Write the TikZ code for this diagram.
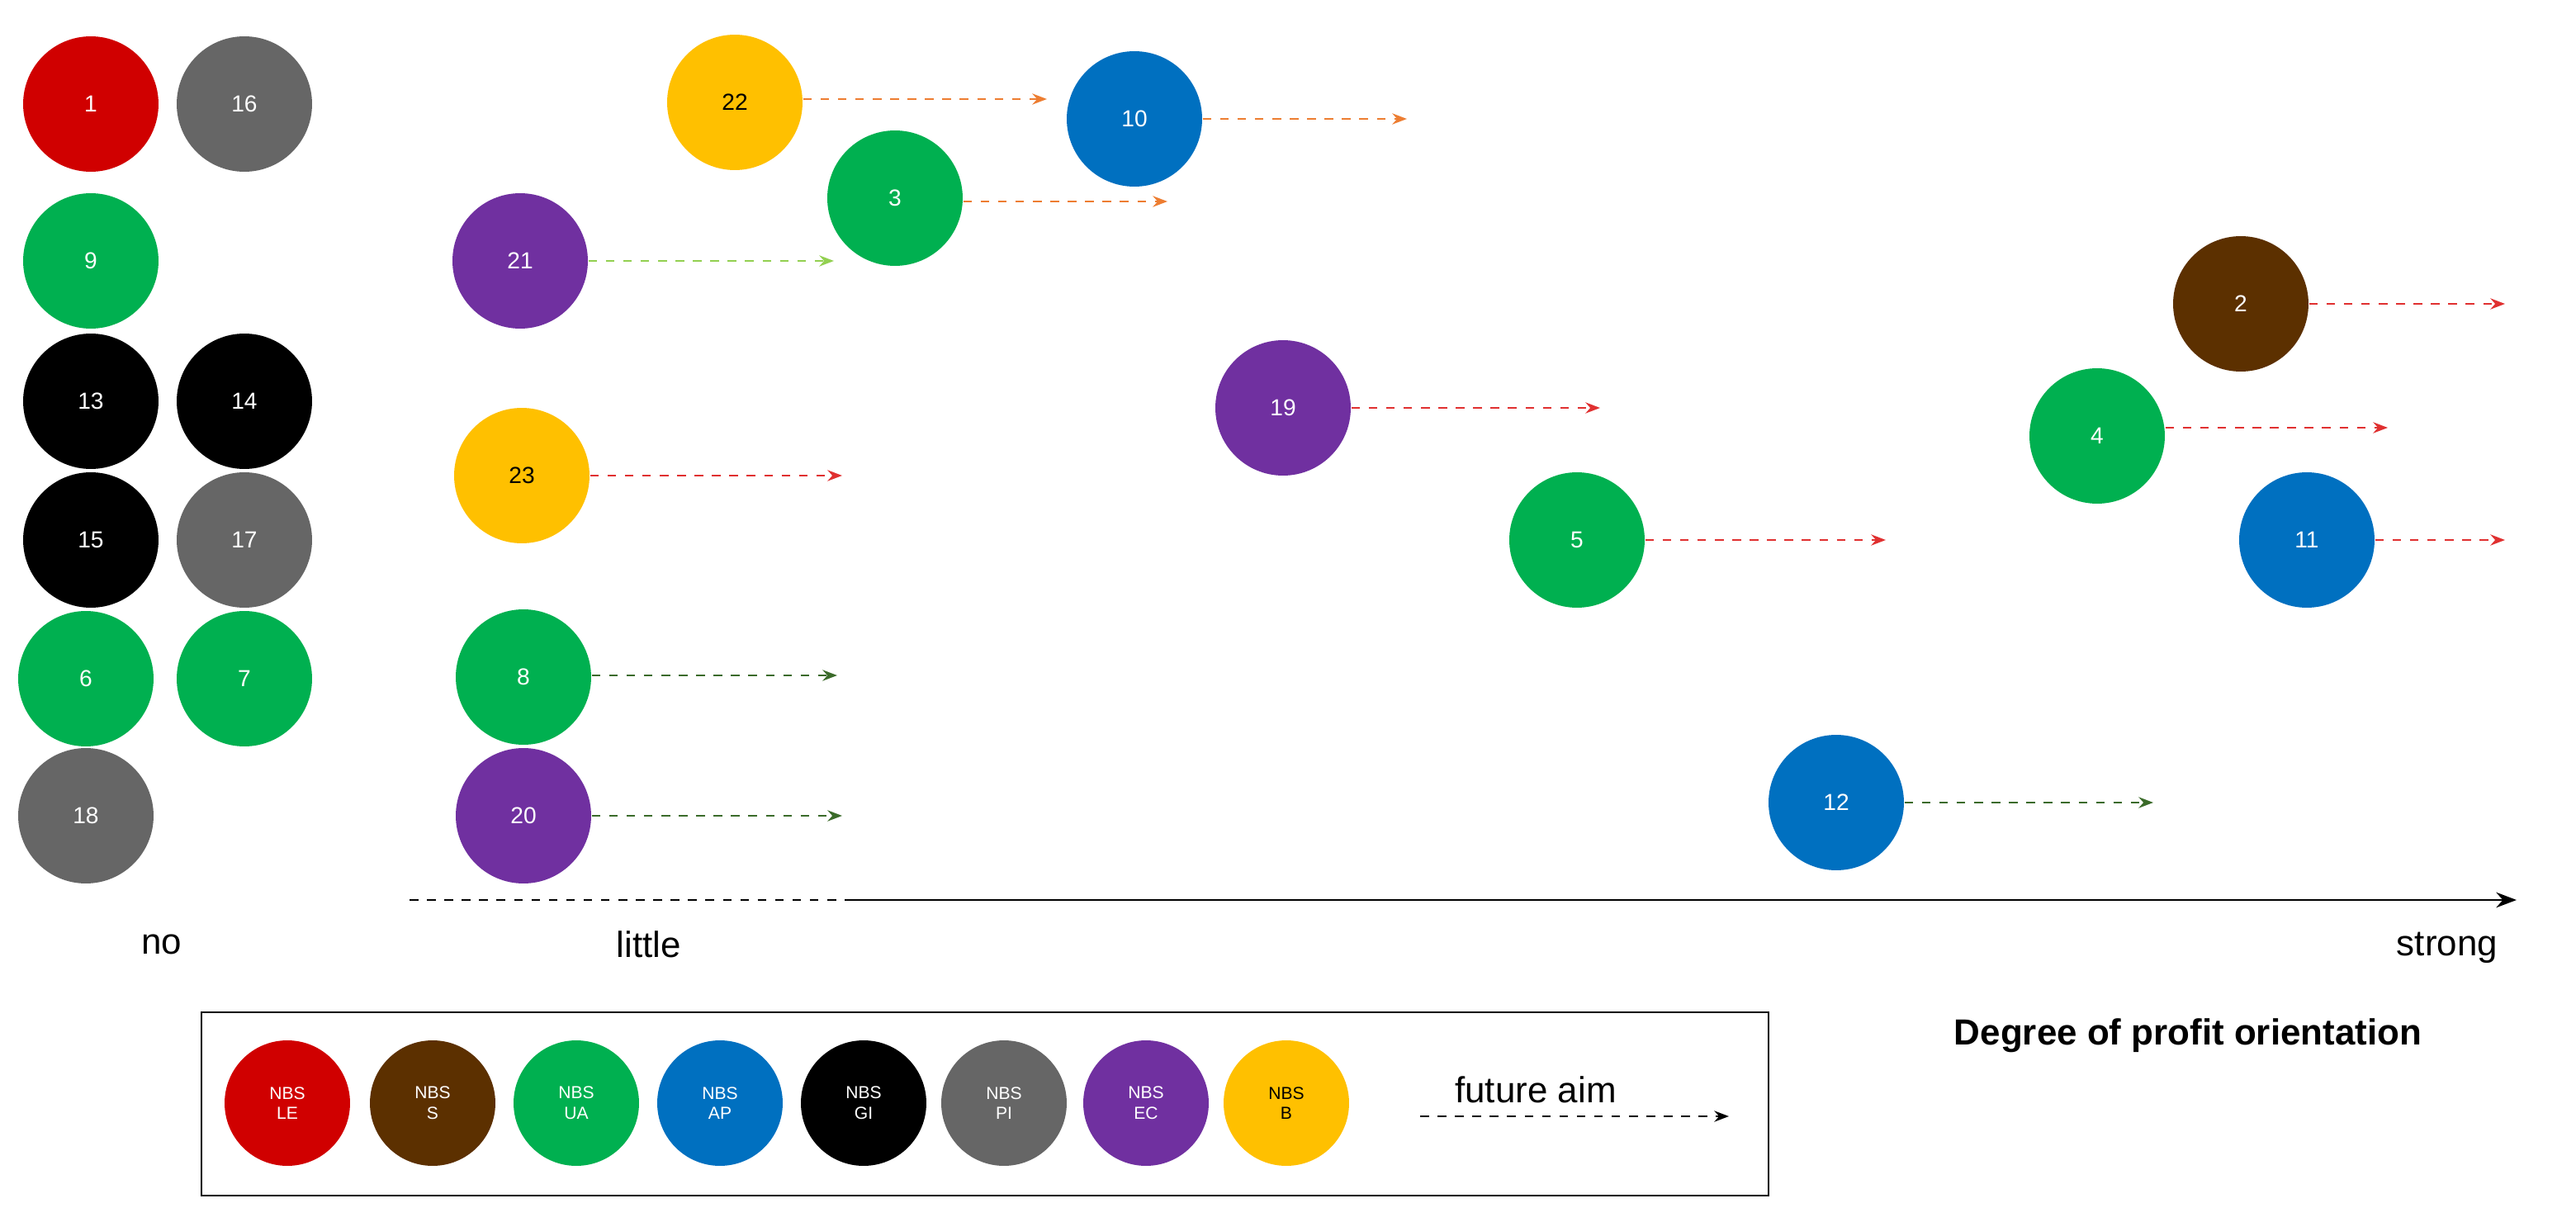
\documentclass[tikz,border=0pt]{standalone}
\usepackage{fontspec}
\setmainfont{Liberation Sans}
\usetikzlibrary{arrows.meta}
\definecolor{cred}{HTML}{D00000}
\definecolor{cgray}{HTML}{666666}
\definecolor{cgreen}{HTML}{00B050}
\definecolor{cblue}{HTML}{0070C0}
\definecolor{cbrown}{HTML}{5C3000}
\definecolor{cpurple}{HTML}{7030A0}
\definecolor{cyellow}{HTML}{FFC000}
\definecolor{aorange}{HTML}{ED7D31}
\definecolor{alight}{HTML}{92D050}
\definecolor{adark}{HTML}{3B6B2A}
\definecolor{ared}{HTML}{E03030}
\tikzset{
 dot/.style={circle,minimum size=1.64cm,inner sep=0pt,text=white,font=\fontsize{8}{9}\selectfont},
 ldot/.style={circle,minimum size=1.52cm,inner sep=0pt,text=white,font=\fontsize{6}{7}\selectfont,align=center},
 aim/.style={dashed,thick,-{Stealth[length=5pt]}},
 lab/.style={font=\fontsize{12.5}{14}\selectfont}
}
\begin{document}
\begin{tikzpicture}[x=0.02cm,y=-0.02cm]
\useasboundingbox (0,0) rectangle (1560,740);
\fill[white] (0,0) rectangle (1560,740);
\foreach \n/\x/\y/\c in {1/55/63/cred,16/148/63/cgray,9/55/158/cgreen,13/55/243/black,14/148/243/black,15/55/327/black,17/148/327/cgray,6/52/411/cgreen,7/148/411/cgreen,18/52/494/cgray,10/687/72/cblue,3/542/120/cgreen,21/315/158/cpurple,2/1357/184/cbrown,19/777/247/cpurple,4/1270/264/cgreen,5/955/327/cgreen,11/1397/327/cblue,8/317/410/cgreen,20/317/494/cpurple,12/1112/486/cblue}
  \node[dot,fill=\c] (n\n) at (\x,\y) {\n};
\node[dot,fill=cyellow,text=black] (n22) at (445,62) {22};
\node[dot,fill=cyellow,text=black] (n23) at (316,288) {23};
\foreach \n/\x/\y/\c in {22/634/60/aorange,10/852/72/aorange,3/707/122/aorange,21/505/158/alight,2/1517/184/ared,19/969/247/ared,4/1446/259/ared,23/510/288/ared,5/1142/327/ared,11/1517/327/ared,8/507/409/adark,20/510/494/adark,12/1304/486/adark}{
  \coordinate (e\n) at (\x,\y);
  \draw[aim,\c] (n\n.east |- e\n) -- (e\n);
}
% axis
\coordinate (a0) at (248,545); \coordinate (a1) at (516,545); \coordinate (a2) at (1524,545);
\draw[thick,dashed] (a0) -- (a1);
\draw[thick,-{Stealth[length=7pt]}] (a1) -- (a2);
\node[lab] (no) at (98,572) {no};
\node[lab] (little) at (393,572) {little};
\node[lab] (strong) at (1482,574) {strong};
\node[lab,font=\bfseries\fontsize{12.5}{14}\selectfont] (deg) at (1325,627) {Degree of profit orientation};
% legend
\draw[thick] (122,613) rectangle (1071,724);
\foreach \t/\x/\c in {LE/174/cred,S/262/cbrown,UA/349/cgreen,AP/436/cblue,GI/523/black,PI/608/cgray,EC/694/cpurple}
  \node[ldot,fill=\c] (l\t) at (\x,668) {NBS\\\t};
\node[ldot,fill=cyellow,text=black] (lB) at (779,668) {NBS\\B};
\node[lab] (fa) at (930,660) {future aim};
\coordinate (f0) at (860,676); \coordinate (f1) at (1047,676);
\draw[aim,black] (f0) -- (f1);
\end{tikzpicture}
\end{document}
